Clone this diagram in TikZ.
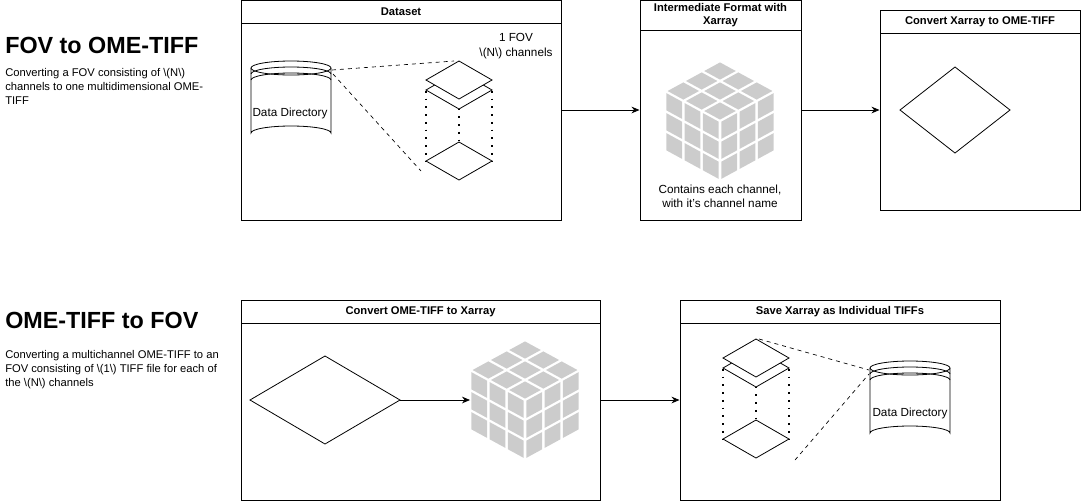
\documentclass[tikz,border=0pt]{standalone}
\usepackage{fontspec}
\setmainfont{Liberation Sans}
\usetikzlibrary{calc,arrows.meta}
\tikzset{
  box/.style={draw,line width=0.75pt},
  hdr/.style={font=\fontsize{8.4}{9.7}\selectfont\bfseries,align=center},
  txt/.style={font=\fontsize{8.4}{10.7}\selectfont,align=left},
  ttl/.style={font=\fontsize{17.5}{20}\selectfont\bfseries,anchor=west,inner sep=0},
  arr/.style={-{Stealth[length=6pt,width=5pt]},line width=0.6pt},
  dashln/.style={dashed,line width=0.5pt},
  dots/.style={line width=1.3pt,dash pattern=on 1.3pt off 4.5pt},
  lay/.style={draw,fill=white,line width=0.6pt},
  tile/.style={fill=black!20,draw=none}
}
% grey rubik cube, top vertex at (#1,#2)
\newcommand\rubik[2]{%
  \begin{scope}[shift={(#1,#2)}]
  \foreach \i in {0,1,2}{\foreach \j in {0,1,2}{
    % top face
    \fill[tile] ($ {(\i+0.07)/3}*(55,30)+{(\j+0.07)/3}*(-55,30) $) -- ($ {(\i+0.93)/3}*(55,30)+{(\j+0.07)/3}*(-55,30) $)
      -- ($ {(\i+0.93)/3}*(55,30)+{(\j+0.93)/3}*(-55,30) $) -- ($ {(\i+0.07)/3}*(55,30)+{(\j+0.93)/3}*(-55,30) $) -- cycle;
    % left face
    \fill[tile] ($ (-55,30)+{(\i+0.07)/3}*(55,30)+{(\j+0.07)/3}*(0,60) $) -- ($ (-55,30)+{(\i+0.93)/3}*(55,30)+{(\j+0.07)/3}*(0,60) $)
      -- ($ (-55,30)+{(\i+0.93)/3}*(55,30)+{(\j+0.93)/3}*(0,60) $) -- ($ (-55,30)+{(\i+0.07)/3}*(55,30)+{(\j+0.93)/3}*(0,60) $) -- cycle;
    % right face
    \fill[tile] ($ (0,60)+{(\i+0.07)/3}*(55,-30)+{(\j+0.07)/3}*(0,60) $) -- ($ (0,60)+{(\i+0.93)/3}*(55,-30)+{(\j+0.07)/3}*(0,60) $)
      -- ($ (0,60)+{(\i+0.93)/3}*(55,-30)+{(\j+0.93)/3}*(0,60) $) -- ($ (0,60)+{(\i+0.07)/3}*(55,-30)+{(\j+0.93)/3}*(0,60) $) -- cycle;
  }}
  \end{scope}}
% data store cylinder, left top (#1,#2), width 80, height 78
\newcommand\datastore[2]{%
  \begin{scope}[shift={(#1,#2)},line width=0.6pt]
  \draw[fill=white] (0,7) -- (0,72) arc[x radius=40,y radius=7,start angle=180,end angle=360] -- (80,7);
  \draw[fill=white] (40,7) ellipse[x radius=40,y radius=7];
  \draw (0,13) arc[x radius=40,y radius=7,start angle=180,end angle=360];
  \draw (0,19) arc[x radius=40,y radius=7,start angle=180,end angle=360];
  \end{scope}}
% stack of layers, left x #1, top y #2
\newcommand\layers[2]{%
  \begin{scope}[shift={(#1,#2)}]
  \draw[dots] (0,30) -- (0,100); \draw[dots] (33,40) -- (33,100); \draw[dots] (66,30) -- (66,100);
  \draw[lay] (0,100) -- (33,81) -- (66,100) -- (33,119) -- cycle;
  \draw[lay] (0,29) -- (33,10) -- (66,29) -- (33,48) -- cycle;
  \draw[lay] (0,19) -- (33,0) -- (66,19) -- (33,38) -- cycle;
  \end{scope}}
\begin{document}
\begin{tikzpicture}[x=0.75pt,y=-0.75pt]
\useasboundingbox (0,0) rectangle (1081,501);
% ---------- top row ----------
\node[ttl] (t1) at (5,45) {FOV to OME-TIFF};
\node[txt,anchor=north west,inner sep=0] (d1) at (5,68) {Converting a FOV consisting of \textbackslash(N\textbackslash)\\channels to one multidimensional OME-\\TIFF};

\draw[box] (241,0) rectangle (561,220); \draw[box] (241,23) -- (561,23);
\node[hdr] (h1) at (401,11.5) {Dataset};
\datastore{251}{61}
\node[txt,font=\fontsize{8.8}{10}\selectfont] (ds1) at (290,113) {Data Directory};
\layers{426}{61}
\coordinate (l1a) at (454,61); \coordinate (l1b) at (421,171);
\coordinate (c1a) at (332,70); \coordinate (c1b) at (333,74);
\draw[dashln] (c1a) -- (l1a); \draw[dashln] (c1b) -- (l1b);
\node[txt,align=center,font=\fontsize{8.8}{10.7}\selectfont] (fov) at (516,46) {1 FOV\\\textbackslash(N\textbackslash) channels};

\node[box,minimum width=120.75pt,minimum height=165pt,inner sep=0] (mid) at (720.5,110) {};
\draw[box] (640,30) -- (801,30);
\node[hdr] at (720.5,15) {Intermediate Format with\\Xarray};
\rubik{720}{61}
\node[txt,align=center,font=\fontsize{8.8}{10.7}\selectfont] at (720,196) {Contains each channel,\\ with it's channel name};

\node[box,minimum width=150pt,minimum height=150pt,inner sep=0] (conv) at (980,110) {};
\draw[box] (880,33) -- (1080,33);
\node[hdr] at (980,21.5) {Convert Xarray to OME-TIFF};
\draw[line width=0.6pt] (900,110) -- (955,67) -- (1010,110) -- (955,153) -- cycle;

\coordinate (ds1r) at (561,110);
\draw[arr] (ds1r) -- (mid.west);
\draw[arr] (mid.east) -- (conv.west);

% ---------- bottom row ----------
\node[ttl] (t2) at (5,320) {OME-TIFF to FOV};
\node[txt,anchor=north west,inner sep=0] (d2) at (5,350) {Converting a multichannel OME-TIFF to an\\FOV consisting of \textbackslash(1\textbackslash) TIFF file for each of\\the \textbackslash(N\textbackslash) channels};

\node[box,minimum width=269.25pt,minimum height=150pt,inner sep=0] (b2) at (420.5,400) {};
\draw[box] (241,323) -- (600,323);
\node[hdr] at (420.5,311.5) {Convert OME-TIFF to Xarray};
\draw[line width=0.6pt] (250,400) -- (325,356) -- (400,400) -- (325,444) -- cycle;
\coordinate (dm2r) at (400,400); \coordinate (cb2) at (470,400);
\rubik{525}{340}
\draw[arr] (dm2r) -- (cb2);

\node[box,minimum width=240pt,minimum height=150pt,inner sep=0] (b3) at (840,400) {};
\draw[box] (680,323) -- (1000,323);
\node[hdr] at (840,311.5) {Save Xarray as Individual TIFFs};
\layers{723}{339}
\datastore{870}{361}
\node[txt,font=\fontsize{8.8}{10}\selectfont] at (910,413) {Data Directory};
\coordinate (l2a) at (759,339); \coordinate (l2b) at (795,460);
\coordinate (c2a) at (869,370); \coordinate (c2b) at (869,374);
\draw[dashln] (l2a) -- (c2a); \draw[dashln] (l2b) -- (c2b);
\draw[arr] (b2.east) -- (b3.west);
\end{tikzpicture}
\end{document}
